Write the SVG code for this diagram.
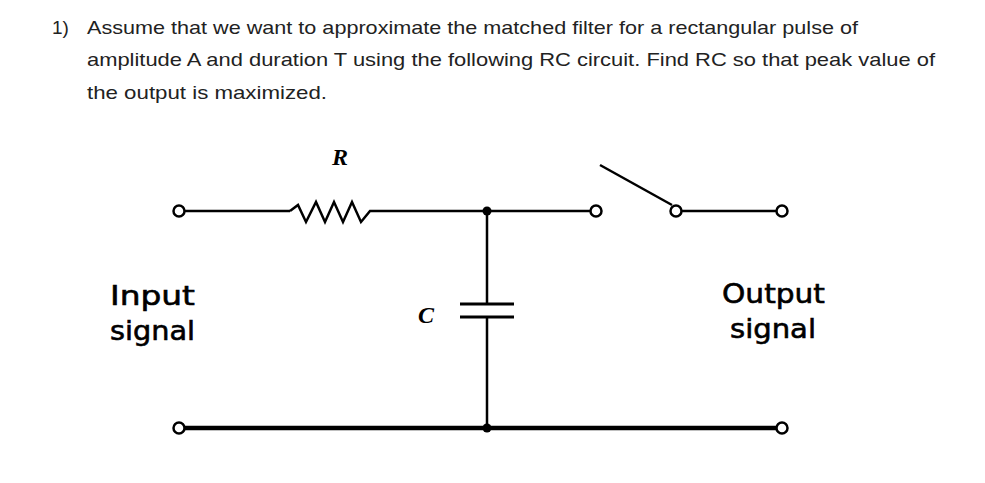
<svg xmlns="http://www.w3.org/2000/svg" width="985" height="483" viewBox="0 0 985 483">
<style>
.t{font-family:"Liberation Sans",Arial,sans-serif;font-size:19px;fill:#222}
.w{stroke:#000;fill:none;stroke-width:2.5}
.term{fill:#fff;stroke:#000;stroke-width:2.5}
.lbl{font-family:"DejaVu Sans",sans-serif;font-size:27px;fill:#000;stroke:#000;stroke-width:0.6}
.it{font-family:"Liberation Serif",serif;font-style:italic;font-weight:bold;font-size:24px;fill:#000}
</style>
<rect width="985" height="483" fill="#fff"/>
<g id="question">
<text class="t" x="52" y="34">1)</text>
<text class="t" x="87" y="34" textLength="771" lengthAdjust="spacingAndGlyphs">Assume that we want to approximate the matched filter for a rectangular pulse of</text>
<text class="t" x="87" y="66" textLength="848" lengthAdjust="spacingAndGlyphs">amplitude A and duration T using the following RC circuit. Find RC so that peak value of</text>
<text class="t" x="87" y="99" textLength="240" lengthAdjust="spacingAndGlyphs">the output is maximized.</text>
</g>
<g id="connectors">
<path class="w" d="M185 211 H290 M378 211 H590"/>
<path class="w" d="M681 211 H776"/>
<path class="w" d="M600 165 L672 205"/>
<path class="w" d="M487 211 V305 M487 316 V428"/>
<path d="M185 428 H776" stroke="#000" stroke-width="4.5" fill="none"/>
</g>
<g id="resistor">
<path class="w" d="M290 211 L298 205 L306 222 L316 202 L325 222 L334 202 L343 222 L352 202 L361 222 L370 211 L378 211"/>
<text class="it" x="340" y="165" text-anchor="middle">R</text>
</g>
<g id="capacitor">
<path d="M460 304 H514 M460 317 H514" stroke="#000" stroke-width="3"/>
<text class="it" x="426" y="323" text-anchor="middle">C</text>
</g>
<g id="junctions">
<circle cx="487" cy="211" r="4.5"/>
<circle cx="487" cy="428" r="4.5"/>
</g>
<g id="terminals">
<circle class="term" cx="179" cy="211" r="5.5"/>
<circle class="term" cx="179" cy="428" r="5.5"/>
<circle class="term" cx="596" cy="211" r="5.5"/>
<circle class="term" cx="676" cy="211" r="5.5"/>
<circle class="term" cx="782" cy="211" r="5.5"/>
<circle class="term" cx="782" cy="428" r="5.5"/>
</g>
<g id="input-label">
<text class="lbl" x="110" y="305" textLength="85" lengthAdjust="spacingAndGlyphs">Input</text>
<text class="lbl" x="110" y="340" textLength="85" lengthAdjust="spacingAndGlyphs">signal</text>
</g>
<g id="output-label">
<text class="lbl" x="722" y="303" textLength="103" lengthAdjust="spacingAndGlyphs">Output</text>
<text class="lbl" x="730" y="338" textLength="86" lengthAdjust="spacingAndGlyphs">signal</text>
</g>
</svg>
